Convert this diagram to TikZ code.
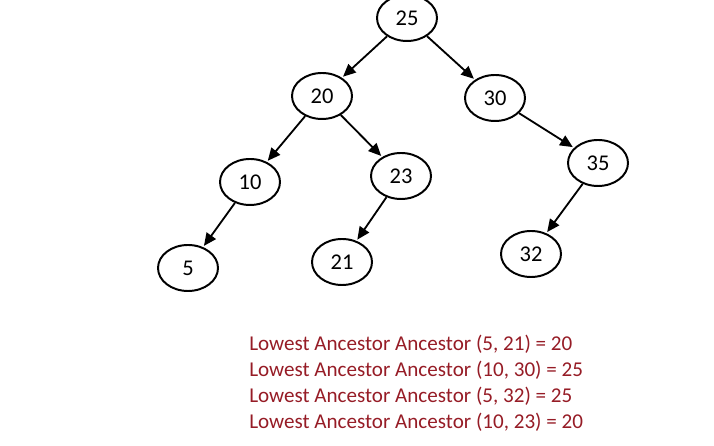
\documentclass[tikz,border=0pt]{standalone}
\usepackage{fontspec}
\setmainfont{Carlito}
\usetikzlibrary{arrows.meta,shapes.geometric}
\definecolor{ancred}{RGB}{150,28,38}
\tikzset{
  key/.style={draw,ellipse,line width=1.4pt,minimum width=1.5cm,minimum height=1.15cm,inner sep=0pt,font=\fontsize{16}{16}\selectfont},
  link/.style={line width=1.3pt,-{Triangle[length=9pt,width=8pt]},shorten >=1pt},
  result/.style={anchor=west,inner sep=0pt,text=ancred,font=\fontsize{15}{15}\selectfont}
}
\begin{document}
\begin{tikzpicture}
  \useasboundingbox (0,0) rectangle (17.85,11.15);
  % root
  \node[key] (n25) at(10.175,10.7){25};
  % level 1
  \node[key] (n20) at(8.05,8.75){20};
  \node[key] (n30) at(12.375,8.7){30};
  % level 2
  \node[key] (n10) at(6.25,6.6){10};
  \node[key] (n23) at(10.025,6.75){23};
  \node[key] (n35) at(14.95,7.075){35};
  % level 3
  \node[key] (n5) at(4.7,4.45){5};
  \node[key] (n21) at(8.55,4.6){21};
  \node[key] (n32) at(13.275,4.8){32};
  % edges
  \draw[link] (n25) -- (n20);
  \draw[link] (n25) -- (n30);
  \draw[link] (n20) -- (n10);
  \draw[link] (n20) -- (n23);
  \draw[link] (n30) -- (n35);
  \draw[link] (n10) -- (n5);
  \draw[link] (n23) -- (n21);
  \draw[link] (n35) -- (n32);
  % results
  \node[result] (r1) at(6.225,2.55){Lowest Ancestor Ancestor (5, 21) = 20};
  \node[result] (r2) at(6.225,1.9){Lowest Ancestor Ancestor (10, 30) = 25};
  \node[result] (r3) at(6.225,1.25){Lowest Ancestor Ancestor (5, 32) = 25};
  \node[result] (r4) at(6.225,0.6){Lowest Ancestor Ancestor (10, 23) = 20};
\end{tikzpicture}
\end{document}
